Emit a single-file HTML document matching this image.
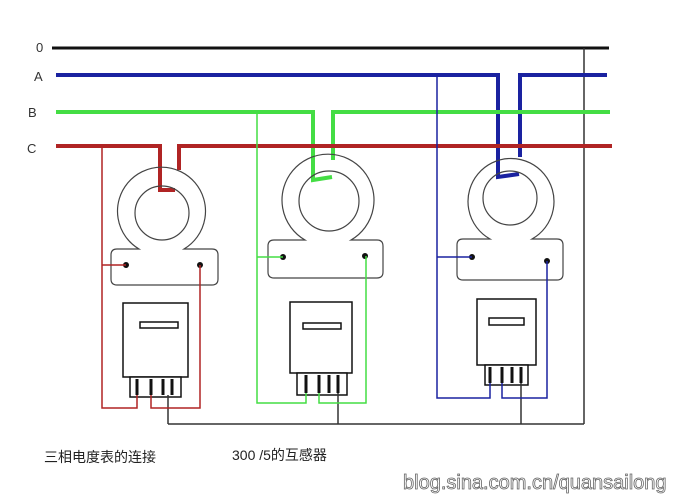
<!DOCTYPE html>
<html><head><meta charset="utf-8"><style>
html,body{margin:0;padding:0;background:#fff;}
svg{display:block;}
</style></head><body>
<svg width="690" height="495" viewBox="0 0 690 495" xmlns="http://www.w3.org/2000/svg">
<rect width="690" height="495" fill="#fff"/>
<g font-family="Liberation Sans, sans-serif" font-size="13" fill="#333">
<text x="36" y="52">0</text>
<text x="34" y="81">A</text>
<text x="28" y="117">B</text>
<text x="27" y="153">C</text>
</g>
<!-- buses -->
<line x1="52" y1="48" x2="609" y2="48" stroke="#111" stroke-width="3"/>
<line x1="584" y1="48" x2="584" y2="424" stroke="#333" stroke-width="1.5"/>
<path d="M56 75 H498 V177 L519 174" fill="none" stroke="#1a22a0" stroke-width="4"/>
<path d="M520 157 V75 H607" fill="none" stroke="#1a22a0" stroke-width="4"/>
<path d="M56 112 H313 V180 L332 177" fill="none" stroke="#44dd44" stroke-width="4"/>
<path d="M333 160 V112 H610" fill="none" stroke="#44dd44" stroke-width="4"/>
<path d="M56 146 H160 V190 H175" fill="none" stroke="#b02424" stroke-width="4"/>
<path d="M179 170 V146 H612" fill="none" stroke="#b02424" stroke-width="4"/>
<!-- bottom black -->
<line x1="168" y1="424" x2="584" y2="424" stroke="#333" stroke-width="1.5"/>
<g fill="none" stroke="#444" stroke-width="1.2">
<!-- CT1 -->
<path d="M139 249 A44 44 0 1 1 184 249 H212 Q218 249 218 255 V279 Q218 285 212 285 H117 Q111 285 111 279 V255 Q111 249 117 249 Z"/>
<circle cx="162" cy="213" r="27"/>
<!-- CT2 -->
<path d="M305 240 A46 46 0 1 1 351 240 H377 Q383 240 383 246 V272 Q383 278 377 278 H274 Q268 278 268 272 V246 Q268 240 274 240 Z"/>
<circle cx="329" cy="201" r="30"/>
<!-- CT3 -->
<path d="M490 239 A43 43 0 1 1 532 239 H557 Q563 239 563 245 V274 Q563 280 557 280 H463 Q457 280 457 274 V245 Q457 239 463 239 Z"/>
<circle cx="510" cy="198" r="27"/>
</g>
<g fill="#111">
<circle cx="126" cy="265" r="3"/><circle cx="200" cy="265" r="3"/>
<circle cx="283" cy="257" r="3"/><circle cx="365" cy="256" r="3"/>
<circle cx="472" cy="257" r="3"/><circle cx="547" cy="261" r="3"/>
</g>
<!-- meters -->
<g fill="#fff" stroke="#111" stroke-width="1.5">
<rect x="123" y="303" width="65" height="74"/><rect x="140" y="322" width="38" height="6"/><rect x="130" y="377" width="51" height="20"/>
<rect x="290" y="302" width="62" height="71"/><rect x="303" y="323" width="38" height="6"/><rect x="297" y="373" width="50" height="22"/>
<rect x="477" y="299" width="59" height="66"/><rect x="489" y="318" width="35" height="7"/><rect x="485" y="365" width="43" height="20"/>
</g>
<g stroke="#111" stroke-width="3">
<line x1="137" y1="379" x2="137" y2="395"/><line x1="151" y1="379" x2="151" y2="395"/><line x1="163" y1="379" x2="163" y2="395"/><line x1="172" y1="379" x2="172" y2="395"/>
<line x1="306" y1="375" x2="306" y2="393"/><line x1="319" y1="375" x2="319" y2="393"/><line x1="329" y1="375" x2="329" y2="393"/><line x1="338" y1="375" x2="338" y2="393"/>
<line x1="490" y1="367" x2="490" y2="383"/><line x1="502" y1="367" x2="502" y2="383"/><line x1="512" y1="367" x2="512" y2="383"/><line x1="521" y1="367" x2="521" y2="383"/>
</g>
<g fill="none" stroke-width="1.5">
<path d="M168 395 V424 M338 393 V424 M521 383 V424" stroke="#333"/>
<path d="M102 146 V408 H137 V395 M102 265 H126 M200 265 V408 H151 V395" stroke="#b02424"/>
<path d="M257 112 V403 H306 V393 M257 257 H283 M366 256 V403 H319 V393" stroke="#44dd44"/>
<path d="M437 75 V398 H490 V383 M437 257 H472 M547 261 V398 H502 V383" stroke="#1a22a0"/>
</g>
<g font-family="Liberation Sans, 'Noto Sans CJK SC', sans-serif" font-size="14" fill="#222">
<text x="44" y="462">三相电度表的连接</text>
<text x="232" y="460">300 /5的互感器</text>
</g>
<text x="403" y="489" font-family="Liberation Sans, sans-serif" font-size="20" fill="#fff" stroke="#666" stroke-width="0.8">blog.sina.com.cn/quansailong</text>
</svg>
</body></html>
